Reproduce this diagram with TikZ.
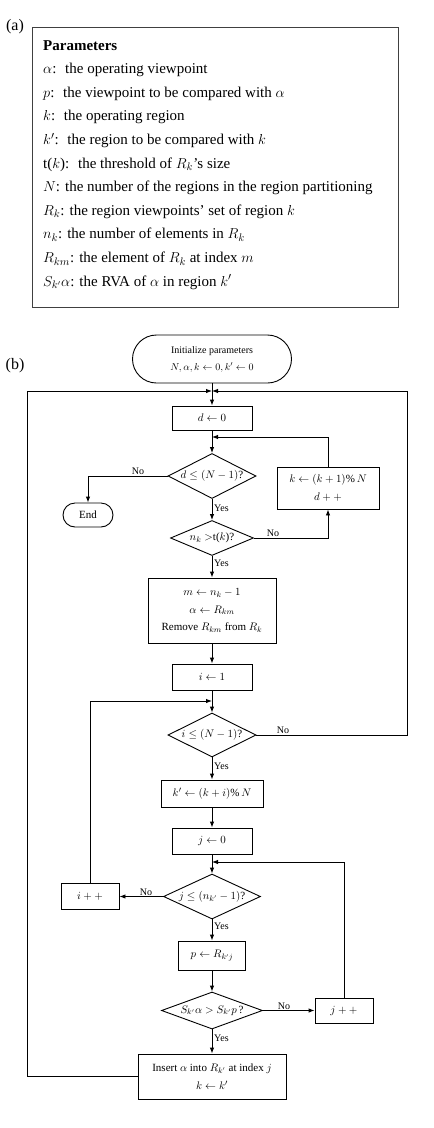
\documentclass[tikz,border=0pt]{standalone}
\usepackage{fontspec}
\setmainfont{Liberation Serif}
\usetikzlibrary{arrows.meta,shapes.misc,shapes.geometric}
\begin{document}
\begin{tikzpicture}[x=1pt,y=-1pt,
  every node/.style={font=\fontsize{11}{13}\selectfont},
  box/.style={draw, line width=0.9pt, inner sep=0pt, align=center},
  dia/.style={draw, diamond, line width=0.9pt, inner sep=0pt},
  term/.style={draw, rounded rectangle, line width=0.9pt, inner sep=0pt, align=center},
  arr/.style={line width=0.9pt, -{Latex[length=6pt,width=4.5pt]}},
  lab/.style={font=\fontsize{10}{11}\selectfont, inner sep=1pt},
  partext/.style={anchor=base west, inner sep=0pt, font=\fontsize{15}{17}\selectfont},
  panlab/.style={font=\fontsize{16}{18}\selectfont, inner sep=0pt},
]
\useasboundingbox (0,0) rectangle (434,1128);

% ---------- panel (a) ----------
\node[panlab] (la) at (15,26.5) {(a)};
\draw[draw=black!75, line width=0.8pt] (32,27) rectangle (398,307);
\node[partext] (p1) at (43,50) {\textbf{Parameters}};
\node[partext] (p2) at (43,73.6) {$\alpha$:~ the operating viewpoint};
\node[partext] (p3) at (43,97.2) {$p$:~ the viewpoint to be compared with $\alpha$};
\node[partext] (p4) at (43,120.8) {$k$:~ the operating region};
\node[partext] (p5) at (43,144.4) {$k'$:~ the region to be compared with $k$};
\node[partext] (p6) at (43,168) {t($k$):~ the threshold of $R_k$'s size};
\node[partext] (p7) at (43,191.6) {$N$: the number of the regions in the region partitioning};
\node[partext] (p8) at (43,215.2) {$R_k$: the region viewpoints' set of region $k$};
\node[partext] (p9) at (43,238.8) {$n_k$: the number of elements in $R_k$};
\node[partext] (p10) at (43,262.4) {$R_{km}$: the element of $R_k$ at index $m$};
\node[partext] (p11) at (43,286) {$S_{k'}\alpha$: the RVA of $\alpha$ in region $k'$};

% ---------- panel (b) ----------
\node[panlab] (lb) at (15,365.5) {(b)};

\node[term, minimum width=159pt, minimum height=48pt, font=\fontsize{10}{17}\selectfont] (start) at (212,359)
  {Initialize parameters\\$N,\alpha,k\leftarrow 0,k'\leftarrow 0$};
\node[box, minimum width=80pt, minimum height=24pt] (d0) at (212,418) {$d\leftarrow 0$};
\node[dia, minimum width=88pt, minimum height=45pt] (dia1) at (212,476) {\makebox[0pt]{$d\le(N-1)$?}};
\node[term, minimum width=50pt, minimum height=24pt] (endn) at (88,515) {End};
\node[box, minimum width=102pt, minimum height=42pt, font=\fontsize{11}{18}\selectfont] (kbox) at (328,488)
  {$k\leftarrow(k+1)\%\,N$\\$d++$};
\node[dia, minimum width=83pt, minimum height=35pt] (dia2) at (212,538) {\makebox[0pt]{$n_k>$t($k$)?}};
\node[box, minimum width=128pt, minimum height=65pt, font=\fontsize{11}{17.5}\selectfont] (mbox) at (212,610.5)
  {$m\leftarrow n_k-1$\\$\alpha\leftarrow R_{km}$\\Remove $R_{km}$ from $R_k$};
\node[box, minimum width=80pt, minimum height=26pt] (i1) at (212,677) {$i\leftarrow 1$};
\node[dia, minimum width=88pt, minimum height=44pt] (dia3) at (212,735) {\makebox[0pt]{$i\le(N-1)$?}};
\node[box, minimum width=102pt, minimum height=27pt] (kp) at (212,793.5) {$k'\leftarrow(k+i)\%\,N$};
\node[box, minimum width=80pt, minimum height=26pt] (j0) at (212,841) {$j\leftarrow 0$};
\node[dia, minimum width=97pt, minimum height=45pt] (dia4) at (212,896.5) {\makebox[0pt]{$j\le(n_{k'}-1)$?}};
\node[box, minimum width=58pt, minimum height=26pt] (ipp) at (90,896.5) {$i++$};
\node[box, minimum width=67pt, minimum height=29pt] (pbox) at (212,955.5) {$p\leftarrow R_{k'j}$};
\node[dia, minimum width=101pt, minimum height=37pt] (dia5) at (212,1010.5) {\makebox[0pt]{$S_{k'}\alpha>S_{k'}p$\,?}};
\node[box, minimum width=58pt, minimum height=25pt] (jpp) at (344,1010.5) {$j++$};
\node[box, minimum width=148pt, minimum height=45pt, font=\fontsize{11}{18}\selectfont] (ins) at (212,1076.5)
  {Insert $\alpha$ into $R_{k'}$ at index $j$\\$k\leftarrow k'$};

% junctions and corners
\coordinate (J1) at (212,391);
\coordinate (LT) at (27,391);
\coordinate (RT) at (407,391);
\coordinate (J2) at (212,437);
\coordinate (J3) at (212,701);
\coordinate (J4) at (212,862);

% connectors
\draw[arr] (start.south) -- (d0.north);
\draw[arr] (ins.west) -| (LT) -- (J1);
\draw[arr] (dia3.east) -| (RT) -- (J1);
\draw[arr] (d0) -- (dia1);
\draw[arr] (kbox.north) |- (J2);
\draw[arr] (dia1.west) -| (endn.north);
\draw[arr] (dia1) -- (dia2);
\draw[arr] (dia2.east) -| (kbox.south);
\draw[arr] (dia2) -- (mbox);
\draw[arr] (mbox) -- (i1);
\draw[arr] (i1) -- (dia3);
\draw[arr] (ipp.north) |- (J3);
\draw[arr] (dia3) -- (kp);
\draw[arr] (kp) -- (j0);
\draw[arr] (j0) -- (dia4);
\draw[arr] (jpp.north) |- (J4);
\draw[arr] (dia4.west) -- (ipp.east);
\draw[arr] (dia4) -- (pbox);
\draw[arr] (pbox) -- (dia5);
\draw[arr] (dia5) -- (jpp);
\draw[arr] (dia5) -- (ins);

% labels
\node[lab, anchor=south] (n1) at (138,476) {No};
\node[lab, anchor=west] (y1) at (213,508) {Yes};
\node[lab, anchor=south] (n2) at (273,538) {No};
\node[lab, anchor=west] (y2) at (213,563) {Yes};
\node[lab, anchor=south] (n3) at (283,735) {No};
\node[lab, anchor=west] (y3) at (213,766) {Yes};
\node[lab, anchor=south] (n4) at (146,896.5) {No};
\node[lab, anchor=west] (y4) at (213,926) {Yes};
\node[lab, anchor=south] (n5) at (284,1010.5) {No};
\node[lab, anchor=west] (y5) at (213,1038) {Yes};
\end{tikzpicture}
\end{document}
